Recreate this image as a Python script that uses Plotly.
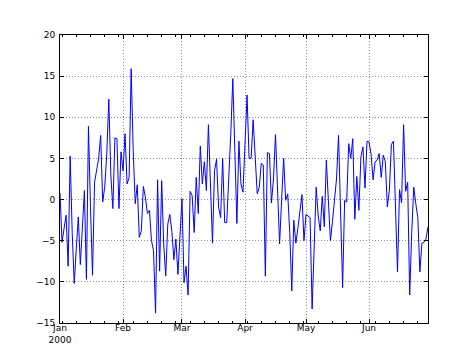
import pandas as pd
import plotly.graph_objects as go

start_date = "2000-01-01"
values = [
    0.8, -5.2, -3.5, -1.9, -8.1, 5.3, -4, -10.2, -6, -2.1,
    -7.9, -3, 1.1, -9.7, 8.9, -1, -9.2, 2.1, 3.5, 5,
    7.8, -0.3, 1.5, 5.5, 12.2, 3, -1.1, 7.5, 7.4, -1.1,
    5.8, 3.5, 8, 1.9, 2.7, 15.9, 6, -0.5, 1.8, -4.6,
    -3.8, 1.6, 0.3, -1.7, -1.3, -5, -6.2, -13.8, 2.4, -8.7,
    2.3, -5.4, -9.3, -3, -1.8, -3.8, -7.3, -4.8, -9.1, -4,
    0.1, -10.1, -8.1, -11.6, 1, 0.5, -4, 2.7, -1.7, 6.5,
    1.9, 4.6, 1.1, 9.1, 2, -5.3, 3.5, 4.9, -0.9, -2.2,
    5, -2.8, -2.8, 2, 8, 14.7, 4, -2.9, 7.1, 1.9,
    0.9, 7, 12.7, 5, 5, 9.7, 4.5, 0.7, 1.5, 4.4,
    4.2, -9.3, 5.7, 5.6, -0.4, 2.5, 7.9, 2, -5.4, 0,
    5, -0.1, 0.7, -4, -11.1, -2.5, -5.3, -3.5, -1.2, 0.6,
    -5, -1.8, -2, -2.2, -13.3, -5, 1.5, -2, -3.8, 0.4,
    -3.3, 4.8, 0.3, -5, -2.7, -0.5, 2.5, 7.8, -1, -10.7,
    -0.1, -0.3, 6.8, 5, 7.4, -2.4, 2.8, -1.3, 5.2, 6.4,
    1.4, 7.1, 7, 5.5, 2.4, 4.6, 4.8, 5.6, 2.7, 5.4,
    4.6, -0.9, 1.1, 6.7, 7.1, -1, -8.8, 1.2, -0.4, 9.1,
    1, 2.1, -11.6, -4, 1.5, -0.5, -2.2, -8.8, -5.3, -5.2,
    -4.8, -3.3,
]
dates = pd.date_range(start_date, periods=len(values), freq="D")

month_ticks = ["2000-01-01", "2000-02-01", "2000-03-01", "2000-04-01", "2000-05-01", "2000-06-01"]
month_labels = ["Jan<br>2000", "Feb", "Mar", "Apr", "May", "Jun"]
y_ticks = [-15, -10, -5, 0, 5, 10, 15, 20]

fig = go.Figure()
fig.add_trace(go.Scatter(
    x=dates, y=values, mode="lines",
    line=dict(color="#0000ff", width=1),
    showlegend=False, hoverinfo="skip",
))

font = dict(family="DejaVu Sans", size=9, color="#000000")
# the page body has an 8px default margin, so the figure is sized to fit inside it
fig.update_layout(
    width=466, height=349,
    margin=dict(l=52, r=46, t=27, b=34, autoexpand=False),
    paper_bgcolor="white", plot_bgcolor="white",
    font=font,
)
grid_kw = dict(showgrid=True, gridcolor="rgba(0,0,0,0.45)", griddash="1px,2px", gridwidth=1)
fig.update_xaxes(
    range=[dates[0], dates[-1]], automargin=False,
    tickmode="array", tickvals=month_ticks, ticktext=month_labels,
    ticks="inside", ticklen=4, tickcolor="#000", tickwidth=1,
    ticklabelstandoff=-4,
    showline=True, linecolor="#000", linewidth=1, mirror="allticks",
    zeroline=False, tickfont=font,
    minor=dict(ticks="inside", ticklen=2, tickcolor="#000", dtick=7 * 86400000,
               tick0="2000-01-02", showgrid=False),
    **grid_kw,
)
fig.update_yaxes(
    range=[-15, 20], automargin=False,
    tickmode="array", tickvals=y_ticks, ticktext=[str(v).replace("-", "\u2212") for v in y_ticks],
    ticks="inside", ticklen=4, tickcolor="#000", tickwidth=1,
    ticklabelstandoff=2,
    showline=True, linecolor="#000", linewidth=1, mirror="allticks",
    zeroline=False, tickfont=font,
    **grid_kw,
)

fig.write_html("out.html")
